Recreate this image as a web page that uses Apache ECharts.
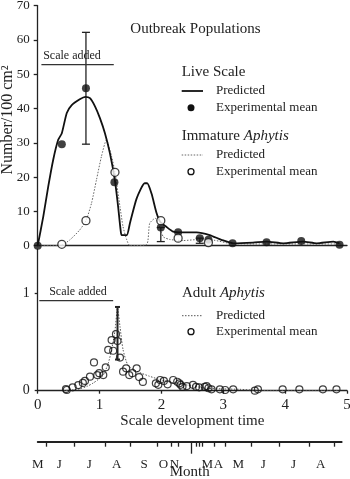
<!DOCTYPE html>
<html>
<head>
<meta charset="utf-8">
<script src="https://cdn.jsdelivr.net/npm/echarts@6/dist/echarts.min.js"></script>
<style>
  html, body { margin: 0; padding: 0; background: #fff; }
  #chart { width: 350px; height: 479px; }
</style>
</head>
<body>
<div id="chart"></div>
<script>
// live scale, predicted curve
const livePredX = [0, 0.09, 0.17, 0.25, 0.33, 0.39, 0.47, 0.55, 0.68, 0.77, 0.845, 0.93, 1.006, 1.087, 1.168, 1.249, 1.30, 1.34, 1.357, 1.44, 1.49, 1.6, 1.73, 1.77, 1.84, 1.92, 1.98, 2.08, 2.19, 2.3, 2.57, 2.78, 2.97, 3.16, 3.48, 3.7, 3.97, 4.29, 4.51, 4.78, 4.88];
const livePredY = [0, 8.5, 17.2, 25, 30.8, 32.8, 38.7, 41, 42.7, 43.4, 43, 40.5, 37.2, 32.8, 26.9, 18.9, 11.4, 4.6, 3.1, 3.1, 6.5, 13.8, 18.2, 18.2, 15.2, 9.6, 7.0, 5.5, 4.1, 3.9, 3.9, 3.1, 1.7, 0.7, 0.9, 1.2, 0.7, 1.2, 0.7, 1.2, 0.7];
// live scale, observed means
const liveObsX = [0, 0.39, 0.78, 1.24, 1.99, 2.27, 2.62, 2.76, 3.15, 3.70, 4.26, 4.88];
const liveObsY = [0, 29.6, 45.9, 18.5, 5.3, 3.9, 2.2, 1.7, 0.7, 1.0, 1.4, 0.3];
// immature Aphytis
const immPredX = [0, 0.2, 0.39, 0.52, 0.68, 0.78, 0.87, 0.95, 1.03, 1.11, 1.195, 1.249, 1.33, 1.38, 1.44, 1.49, 1.76, 1.81, 1.9, 1.95, 2.03, 2.14, 2.35, 2.6, 2.85, 3.1, 3.5, 4.0, 4.5, 4.9];
const immPredY = [0, 0, 0.2, 1.7, 4.6, 7.3, 12.4, 19.2, 26, 30.8, 26, 21.4, 11.4, 5.5, 1.7, 0, 0.3, 6.5, 8.0, 6.5, 2.6, 1.8, 1.5, 1.8, 1.6, 0.7, 0.5, 0.5, 0.5, 0.5];
const immObsX = [0.39, 0.78, 1.249, 1.99, 2.27, 2.76];
const immObsY = [0.4, 7.3, 21.4, 7.3, 2.2, 0.9];
// error bars (top panel): x, low, high
const errX = [0.78, 1.99, 2.62];
const errLow = [29.6, 1.2, 0.7];
const errHigh = [62.2, 5.3, 2.2];
// adult Aphytis
const adultPredX = [0.41, 0.55, 0.68, 0.80, 0.90, 0.98, 1.06, 1.14, 1.195, 1.25, 1.29, 1.33, 1.38, 1.46, 1.6, 1.8, 2.0, 2.2, 2.4, 2.73, 3.0, 3.27, 3.54, 3.8, 4.2, 4.6, 4.9];
const adultPredY = [0, 0.008, 0.02, 0.045, 0.08, 0.115, 0.16, 0.28, 0.42, 0.62, 0.85, 0.66, 0.42, 0.26, 0.2, 0.15, 0.11, 0.08, 0.06, 0.025, 0.018, 0.014, 0.005, 0, 0, 0, 0];
const adultObsX = [0.457, 0.47, 0.565, 0.656, 0.73, 0.764, 0.845, 0.91, 0.963, 0.995, 1.06, 1.10, 1.14, 1.195, 1.22, 1.265, 1.29, 1.33, 1.38, 1.43, 1.48, 1.53, 1.6, 1.64, 1.70, 1.91, 1.95, 1.98, 2.04, 2.1, 2.19, 2.255, 2.29, 2.31, 2.34, 2.41, 2.51, 2.56, 2.61, 2.70, 2.73, 2.76, 2.81, 2.945, 3.03, 3.16, 3.51, 3.56, 3.96, 4.23, 4.61, 4.83];
const adultObsY = [0.017, 0.007, 0.035, 0.058, 0.08, 0.1, 0.144, 0.29, 0.16, 0.18, 0.16, 0.24, 0.42, 0.52, 0.41, 0.58, 0.51, 0.34, 0.195, 0.23, 0.16, 0.18, 0.23, 0.14, 0.09, 0.076, 0.06, 0.11, 0.1, 0.065, 0.11, 0.092, 0.076, 0.06, 0.04, 0.048, 0.06, 0.04, 0.035, 0.04, 0.048, 0.025, 0.014, 0.014, 0.007, 0.014, 0, 0.014, 0.014, 0.014, 0.014, 0.014];
const adultErrX = [1.29];
const adultErrLow = [0.32];
const adultErrHigh = [0.86];
// "Scale added" bars
const scaleAddedTopX = [0.06, 1.23];
const scaleAddedTopY = 52.8;
const scaleAddedBotX = [0.026, 1.22];
const scaleAddedBotY = 0.924;
// month axis
const monthTicks = [0.145, 0.586, 1.099, 1.502, 1.932, 2.149, 2.271, 2.557, 2.611, 2.650, 2.853, 3.037, 3.446, 3.898, 4.383, 4.787];
const yearTick = [2.472];
const monthLabels = ['M', 'J', 'J', 'A', 'S', 'O', 'N', 'M', 'A', 'M', 'J', 'J', 'A'];
const monthLabelPos = [0, 0.349, 0.834, 1.276, 1.717, 2.029, 2.21, 2.74, 2.918, 3.24, 3.645, 4.13, 4.572];

const FONT = '"Liberation Serif", "Times New Roman", serif';
const INK = '#222';

function pairs(xs, ys) {
    return xs.map((x, i) => [x, ys[i]]);
}

function errorBars(xs, lo, hi) {
    return xs.map((x, i) => [x, lo[i], hi[i]]);
}

function renderErr(width, cap) {
    return function (params, api) {
        const x = api.value(0);
        const p1 = api.coord([x, api.value(1)]);
        const p2 = api.coord([x, api.value(2)]);
        const st = { stroke: INK, lineWidth: width };
        return {
            type: 'group',
            children: [
                { type: 'line', shape: { x1: p1[0], y1: p1[1], x2: p2[0], y2: p2[1] }, style: st },
                { type: 'line', shape: { x1: p1[0] - cap, y1: p1[1], x2: p1[0] + cap, y2: p1[1] }, style: st },
                { type: 'line', shape: { x1: p2[0] - cap, y1: p2[1], x2: p2[0] + cap, y2: p2[1] }, style: st }
            ]
        };
    };
}

const axisLineStyle = { color: INK, width: 1.3 };
const labelFont = { fontFamily: FONT, color: INK, fontSize: 13 };

const chart = echarts.init(document.getElementById('chart'));

const option = {
    animation: false,
    grid: [
        { left: 37.7, right: 3, top: 5.6, bottom: 233.3, outerBoundsMode: 'none' },
        { left: 37.7, right: 3, top: 249.5, bottom: 88.3, outerBoundsMode: 'none' },
        { left: 37.7, right: 8.3, top: 430, bottom: 37.3, outerBoundsMode: 'none' }
    ],
    xAxis: [
        {
            gridIndex: 0, type: 'value', min: 0, max: 5, position: 'bottom',
            axisLine: { onZero: false, lineStyle: axisLineStyle },
            axisTick: { show: false }, axisLabel: { show: false }, splitLine: { show: false }
        },
        {
            gridIndex: 1, type: 'value', min: 0, max: 5, interval: 1, position: 'bottom',
            axisLine: { onZero: false, lineStyle: axisLineStyle },
            axisTick: { length: 3, lineStyle: axisLineStyle },
            axisLabel: Object.assign({ margin: 7 }, labelFont, { fontSize: 15 }),
            splitLine: { show: false },
            name: 'Scale development time', nameLocation: 'middle', nameGap: 23,
            nameTextStyle: { fontFamily: FONT, color: INK, fontSize: 15 }
        },
        {
            gridIndex: 2, type: 'value', min: 0, max: 4.91, position: 'bottom',
            axisLine: { onZero: false, lineStyle: { color: INK, width: 1.8 } },
            axisTick: { customValues: monthTicks, length: 5, lineStyle: { color: INK, width: 1.3 } },
            axisLabel: Object.assign({
                customValues: monthLabelPos, margin: 16,
                formatter: function (v) {
                    let best = 0;
                    monthLabelPos.forEach((p, i) => { if (Math.abs(p - v) < Math.abs(monthLabelPos[best] - v)) best = i; });
                    return monthLabels[best];
                }
            }, labelFont),
            splitLine: { show: false },
            name: 'Month', nameLocation: 'middle', nameGap: 23, nameMoveOverlap: false,
            nameTextStyle: { fontFamily: FONT, color: INK, fontSize: 15 }
        },
        {
            // the longer year-boundary tick
            gridIndex: 2, type: 'value', min: 0, max: 4.91, position: 'bottom',
            axisLine: { show: false, onZero: false },
            axisTick: { customValues: yearTick, length: 12, lineStyle: { color: INK, width: 1.3 } },
            axisLabel: { show: false }, splitLine: { show: false }
        }
    ],
    yAxis: [
        {
            gridIndex: 0, type: 'value', min: 0, max: 70, interval: 10,
            axisLine: { show: true, lineStyle: axisLineStyle },
            axisTick: { show: true, length: 4, lineStyle: axisLineStyle },
            axisLabel: Object.assign({ margin: 8 }, labelFont),
            splitLine: { show: false }
        },
        {
            gridIndex: 1, type: 'value', min: 0, max: 1.45,
            axisLine: { show: true, lineStyle: axisLineStyle },
            axisTick: { show: true, customValues: [0, 1], length: 3, lineStyle: axisLineStyle },
            axisLabel: Object.assign({ customValues: [0, 1], margin: 8 }, labelFont, { fontSize: 14 }),
            splitLine: { show: false }
        },
        { gridIndex: 2, type: 'value', min: 0, max: 1, show: false }
    ],
    series: [
        {
            name: 'Scale added top', type: 'line', xAxisIndex: 0, yAxisIndex: 0,
            data: scaleAddedTopX.map(x => [x, scaleAddedTopY]),
            symbol: 'none', lineStyle: { color: '#333', width: 1.3 }
        },
        {
            name: 'Immature predicted', type: 'line', xAxisIndex: 0, yAxisIndex: 0,
            data: pairs(immPredX, immPredY), symbol: 'none', smooth: 0.2,
            lineStyle: { color: '#666', width: 1, type: [1.5, 1.5] }
        },
        {
            name: 'Live predicted', type: 'line', xAxisIndex: 0, yAxisIndex: 0,
            data: pairs(livePredX, livePredY), symbol: 'none', smooth: 0.2,
            lineStyle: { color: '#111', width: 1.8 }
        },
        {
            name: 'Error', type: 'custom', xAxisIndex: 0, yAxisIndex: 0,
            data: errorBars(errX, errLow, errHigh), renderItem: renderErr(1.3, 4), z: 3
        },
        {
            name: 'Live observed', type: 'scatter', xAxisIndex: 0, yAxisIndex: 0,
            data: pairs(liveObsX, liveObsY), symbolSize: 8,
            itemStyle: { color: '#111' }, z: 4
        },
        {
            name: 'Immature observed', type: 'scatter', xAxisIndex: 0, yAxisIndex: 0,
            data: pairs(immObsX, immObsY), symbolSize: 8,
            itemStyle: { color: '#fff', borderColor: '#111', borderWidth: 1.3 }, z: 5
        },
        {
            name: 'Scale added bottom', type: 'line', xAxisIndex: 1, yAxisIndex: 1,
            data: scaleAddedBotX.map(x => [x, scaleAddedBotY]),
            symbol: 'none', lineStyle: { color: '#333', width: 1.3 }
        },
        {
            name: 'Adult predicted', type: 'line', xAxisIndex: 1, yAxisIndex: 1,
            data: pairs(adultPredX, adultPredY), symbol: 'none', smooth: 0.2,
            lineStyle: { color: '#555', width: 1, type: [1.5, 1.5] }
        },
        {
            name: 'Adult observed', type: 'scatter', xAxisIndex: 1, yAxisIndex: 1,
            data: pairs(adultObsX, adultObsY), symbolSize: 7,
            itemStyle: { color: 'rgba(255,255,255,0)', borderColor: '#111', borderWidth: 1.2 }, z: 4
        },
        {
            name: 'Adult error', type: 'custom', xAxisIndex: 1, yAxisIndex: 1,
            data: errorBars(adultErrX, adultErrLow, adultErrHigh), renderItem: renderErr(2, 2.5), z: 5
        }
    ],
    graphic: [
        { type: 'text', x: 8, y: 120, rotation: Math.PI / 2,
          style: { text: 'Number/100 cm²', font: '16px ' + FONT, fill: INK, align: 'center', verticalAlign: 'middle' } },
        { type: 'text', x: 195.5, y: 29.3,
          style: { text: 'Outbreak Populations', font: '15px ' + FONT, fill: INK, align: 'center', verticalAlign: 'middle' } },
        { type: 'text', x: 72, y: 56,
          style: { text: 'Scale added', font: '12px ' + FONT, fill: INK, align: 'center', verticalAlign: 'middle' } },
        { type: 'text', x: 78, y: 291.7,
          style: { text: 'Scale added', font: '12px ' + FONT, fill: INK, align: 'center', verticalAlign: 'middle' } },

        // legend, live scale
        { type: 'text', x: 181.7, y: 71.7,
          style: { text: 'Live Scale', font: '15px ' + FONT, fill: INK, verticalAlign: 'middle' } },
        { type: 'line', shape: { x1: 181.7, y1: 91, x2: 203, y2: 91 }, style: { stroke: '#111', lineWidth: 1.8 } },
        { type: 'text', x: 216, y: 91, style: { text: 'Predicted', font: '13px ' + FONT, fill: INK, verticalAlign: 'middle' } },
        { type: 'circle', shape: { cx: 191, cy: 107.7, r: 3.5 }, style: { fill: '#111' } },
        { type: 'text', x: 216, y: 107.7, style: { text: 'Experimental mean', font: '13px ' + FONT, fill: INK, verticalAlign: 'middle' } },

        // legend, immature
        { type: 'text', x: 181.7, y: 136,
          style: { text: '{a|Immature }{b|Aphytis}', verticalAlign: 'middle', fill: INK,
                   rich: { a: { font: '15px ' + FONT, fill: INK }, b: { font: 'italic 15px ' + FONT, fill: INK } } } },
        { type: 'line', shape: { x1: 181.7, y1: 155, x2: 203, y2: 155 }, style: { stroke: '#666', lineWidth: 1, lineDash: [1.5, 1.5] } },
        { type: 'text', x: 216, y: 155, style: { text: 'Predicted', font: '13px ' + FONT, fill: INK, verticalAlign: 'middle' } },
        { type: 'circle', shape: { cx: 191, cy: 171.7, r: 3 }, style: { fill: '#fff', stroke: '#111', lineWidth: 1.3 } },
        { type: 'text', x: 216, y: 171.7, style: { text: 'Experimental mean', font: '13px ' + FONT, fill: INK, verticalAlign: 'middle' } },

        // legend, adult
        { type: 'text', x: 182, y: 293.3,
          style: { text: '{a|Adult }{b|Aphytis}', verticalAlign: 'middle', fill: INK,
                   rich: { a: { font: '15px ' + FONT, fill: INK }, b: { font: 'italic 15px ' + FONT, fill: INK } } } },
        { type: 'line', shape: { x1: 182, y1: 315.7, x2: 203, y2: 315.7 }, style: { stroke: '#555', lineWidth: 1, lineDash: [1.5, 1.5] } },
        { type: 'text', x: 216, y: 315.7, style: { text: 'Predicted', font: '13px ' + FONT, fill: INK, verticalAlign: 'middle' } },
        { type: 'circle', shape: { cx: 191, cy: 331.7, r: 3 }, style: { fill: '#fff', stroke: '#111', lineWidth: 1.3 } },
        { type: 'text', x: 216, y: 331.7, style: { text: 'Experimental mean', font: '13px ' + FONT, fill: INK, verticalAlign: 'middle' } }
    ]
};

chart.setOption(option);
</script>
</body>
</html>
